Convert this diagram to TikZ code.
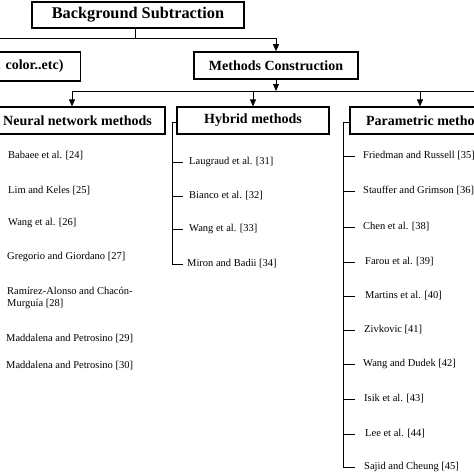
\documentclass[tikz,border=0pt]{standalone}
\usepackage{fontspec}
\setmainfont{Liberation Serif}
\usetikzlibrary{arrows.meta}
\begin{document}
\begin{tikzpicture}[x=1pt,y=-1pt,
  box/.style={draw=black, line width=1.2pt, rectangle, inner sep=0pt, minimum height=27pt, font=\fontsize{14}{16}\selectfont\bfseries},
  conn/.style={draw=black, line width=0.8pt},
  arr/.style={conn, -{Triangle[width=6pt,length=7pt]}},
  item/.style={anchor=west, inner sep=0pt, font=\fontsize{10.5}{12.5}\selectfont, align=left}]
\useasboundingbox (0,0) rectangle (474,474);
\clip (0,0) rectangle (474,474);
% level 1
\node[box, minimum width=212pt, minimum height=26pt, font=\fontsize{16.3}{18}\selectfont\bfseries] (bs) at (138,15) {Background Subtraction};
% level 2
\node[box, anchor=east, minimum height=29pt, inner xsep=17pt] (feat) at (81,66.5) {(e.g. color..etc)};
\node[box, line width=1.6pt, minimum width=164pt] (mc) at (276,65.5) {Methods Construction};
% level 3
\node[box, minimum width=175pt] (nn) at (77.5,120.5) {Neural network methods};
\node[box, minimum width=152pt] (hy) at (253,120.5) {Hybrid methods};
\node[box, minimum width=154pt] (pm) at (427,120.5) {Parametric methods};
% connectors level 1 -> 2
\coordinate (j1) at (135,38);
\coordinate (j1l) at (-10,38);
\coordinate (j1r) at (276,38);
\draw[conn] (bs.south -| j1) -- (j1);
\draw[conn] (j1l) -- (j1r);
\draw[arr] (j1r) -- (mc.north);
% connectors level 2 -> 3
\coordinate (j2) at (276,91);
\coordinate (j2l) at (72,91);
\coordinate (j2r) at (480,91);
\draw[arr] (mc.south) -- (j2);
\draw[conn] (j2l) -- (j2r);
\draw[arr] (j2l) -- (nn.north -| j2l);
\draw[arr] (j2 -| hy.north) -- (hy.north);
\draw[arr] (j2 -| 420,0) -- (hy.north -| 420,0);
% neural network list
\node[item] (n24) at (8,156) {Babaee et al. [24]};
\node[item] (n25) at (8,191) {Lim and Keles [25]};
\node[item] (n26) at (8,223) {Wang et al. [26]};
\node[item] (n27) at (7,257) {Gregorio and Giordano [27]};
\node[item] (n28) at (7,298) {Ramírez-Alonso and Chacón-\\Murguía [28]};
\node[item] (n29) at (6,339) {Maddalena and Petrosino [29]};
\node[item] (n30) at (6,366) {Maddalena and Petrosino [30]};
% hybrid list
\node[item] (h31) at (189,162) {Laugraud et al. [31]};
\node[item] (h32) at (189,196) {Bianco et al. [32]};
\node[item] (h33) at (189,229) {Wang et al. [33]};
\node[item] (h34) at (187,264) {Miron and Badii [34]};
\coordinate (hv) at (172,122);
\draw[conn] (hy.west |- hv) -- (hv) -- (172,264) -- ([xshift=-4pt]h34.west);
\foreach \n in {h31,h32,h33}{
  \draw[conn] (hv |- \n.west) -- ([xshift=-6pt]\n.west);
}
% parametric list
\node[item] (p35) at (363,156) {Friedman and Russell [35]};
\node[item] (p36) at (363,191) {Stauffer and Grimson [36]};
\node[item] (p38) at (363,227) {Chen et al. [38]};
\node[item] (p39) at (365,262) {Farou et al. [39]};
\node[item] (p40) at (365,296) {Martins et al. [40]};
\node[item] (p41) at (364,330) {Zivkovic [41]};
\node[item] (p42) at (363,364) {Wang and Dudek [42]};
\node[item] (p43) at (364,399) {Isik et al. [43]};
\node[item] (p44) at (365,434) {Lee et al. [44]};
\node[item] (p45) at (364,467) {Sajid and Cheung [45]};
\coordinate (pv) at (343,122);
\draw[conn] (pm.west |- pv) -- (pv) -- (343,467) -- ([xshift=-9pt]p45.west);
\foreach \n/\e in {p35/355,p36/355,p38/355,p39/355,p40/355,p41/355,p42/355,p43/355,p44/355}{
  \draw[conn] (pv |- \n.west) -- (\e,0 |- \n.west);
}
\end{tikzpicture}
\end{document}
